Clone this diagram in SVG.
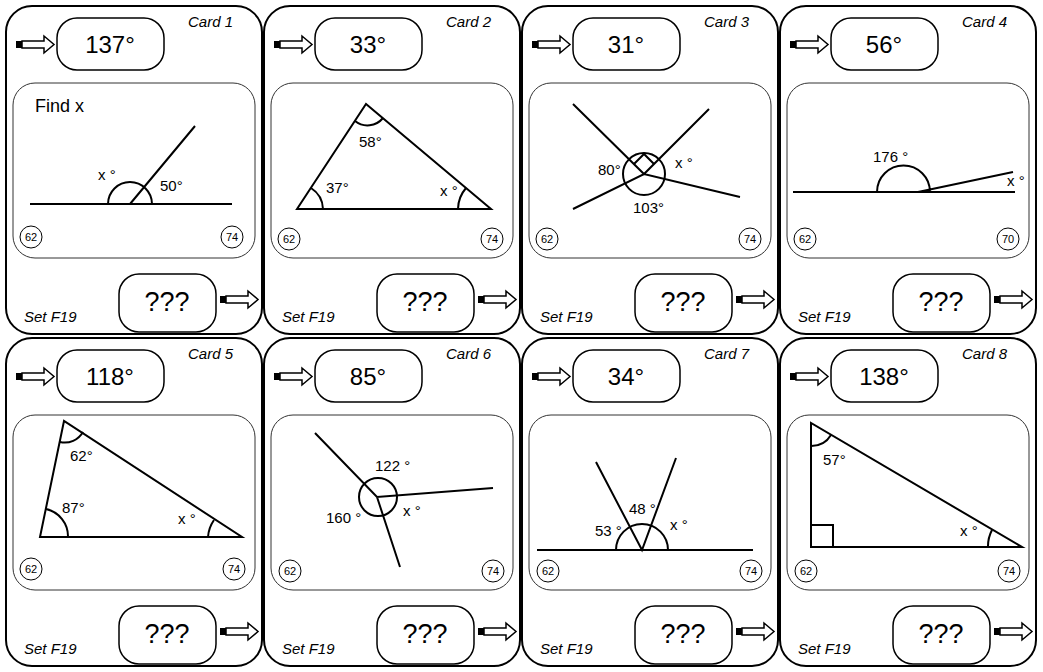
<svg xmlns="http://www.w3.org/2000/svg" width="1043" height="672" viewBox="0 0 1043 672">
<defs>
<style>
text{font-family:"Liberation Sans",Arial,sans-serif;fill:#000}
.card{fill:#fff;stroke:#000;stroke-width:2}
.inner{fill:#fff;stroke:#333;stroke-width:1}
.pill{fill:#fff;stroke:#000;stroke-width:1.5}
.ln{fill:none;stroke:#000;stroke-width:2}
.num{fill:#fff;stroke:#000;stroke-width:1}
.it{font-style:italic;font-size:15px}
.lab{font-size:15px}
.big{font-size:24px}
.q{font-size:27px}
.sm{font-size:11px}
</style>
<g id="shell">
<rect class="card" x="0" y="0" width="256" height="328" rx="26"/>
<path d="M10,35h6v7h-6z" fill="#000"/>
<polygon points="16,35 38,35 38,30 48,38.5 38,47 38,42 16,42" fill="#fff" stroke="#000" stroke-width="1.5"/>
<rect class="pill" x="51" y="12" width="107" height="52" rx="20"/>
<rect class="inner" x="7" y="77" width="242" height="175" rx="22"/>
<rect class="pill" x="113" y="268" width="97" height="58" rx="20"/>
<path d="M214,290h6v7h-6z" fill="#000"/>
<polygon points="220,290 242,290 242,285 252,293.5 242,302 242,297 220,297" fill="#fff" stroke="#000" stroke-width="1.5"/>
<text class="it" x="18" y="316">Set F19</text>
</g>
</defs>
<rect width="1043" height="672" fill="#fff"/>
<g id="card1"><use href="#shell" x="6" y="6"/>
<text class="it" x="233" y="27" text-anchor="end">Card 1</text>
<text class="big" x="110" y="53" text-anchor="middle">137°</text>
<text class="q" x="167" y="311" text-anchor="middle">???</text>
<text x="35" y="112" font-size="18">Find x</text>
<path class="ln" d="M30,204H232M130,204L195,126M108,204A22,22 0 0 1 152,204"/>
<text class="lab" x="98" y="180">x °</text><text class="lab" x="160" y="191">50°</text>
<circle class="num" cx="31" cy="237" r="11"/><text class="sm" x="31" y="241" text-anchor="middle">62</text>
<circle class="num" cx="232" cy="237" r="11"/><text class="sm" x="232" y="241" text-anchor="middle">74</text>
</g>
<g id="card2"><use href="#shell" x="264" y="6"/>
<text class="it" x="491" y="27" text-anchor="end">Card 2</text>
<text class="big" x="368" y="53" text-anchor="middle">33°</text>
<text class="q" x="425" y="311" text-anchor="middle">???</text>
<path class="ln" d="M297,209L366,104L491,209Z"/>
<path class="ln" stroke-width="1.5" d="M355,121A20,20 0 0 0 383,118M323,209A26,26 0 0 0 311,188M458,209A33,33 0 0 1 466,188"/>
<text class="lab" x="359" y="147">58°</text><text class="lab" x="326" y="193">37°</text><text class="lab" x="440" y="196">x °</text>
<circle class="num" cx="289" cy="239" r="11"/><text class="sm" x="289" y="243" text-anchor="middle">62</text>
<circle class="num" cx="492" cy="239" r="11"/><text class="sm" x="492" y="243" text-anchor="middle">74</text>
</g>
<g id="card3"><use href="#shell" x="522" y="6"/>
<text class="it" x="749" y="27" text-anchor="end">Card 3</text>
<text class="big" x="626" y="53" text-anchor="middle">31°</text>
<text class="q" x="683" y="311" text-anchor="middle">???</text>
<path class="ln" d="M573,104L644,174L709,109M573,209L644,174L740,197"/>
<circle class="ln" cx="644" cy="174" r="21"/>
<path class="ln" d="M634,164L644,154L654,164"/>
<text class="lab" x="598" y="175">80°</text><text class="lab" x="675" y="168">x °</text><text class="lab" x="633" y="213">103°</text>
<circle class="num" cx="547" cy="239" r="11"/><text class="sm" x="547" y="243" text-anchor="middle">62</text>
<circle class="num" cx="750" cy="239" r="11"/><text class="sm" x="750" y="243" text-anchor="middle">74</text>
</g>
<g id="card4"><use href="#shell" x="780" y="6"/>
<text class="it" x="1007" y="27" text-anchor="end">Card 4</text>
<text class="big" x="884" y="53" text-anchor="middle">56°</text>
<text class="q" x="941" y="311" text-anchor="middle">???</text>
<path class="ln" d="M793,192H1015M918,192L1013,172M877,192A26.5,26.5 0 0 1 930,192"/>
<text class="lab" x="873" y="162">176 °</text><text class="lab" x="1007" y="186">x °</text>
<circle class="num" cx="805" cy="239" r="11"/><text class="sm" x="805" y="243" text-anchor="middle">62</text>
<circle class="num" cx="1008" cy="239" r="11"/><text class="sm" x="1008" y="243" text-anchor="middle">70</text>
</g>
<g id="card5"><use href="#shell" x="6" y="338"/>
<text class="it" x="233" y="359" text-anchor="end">Card 5</text>
<text class="big" x="110" y="385" text-anchor="middle">118°</text>
<text class="q" x="167" y="643" text-anchor="middle">???</text>
<path class="ln" d="M64,421L40,537L242,537Z"/>
<path class="ln" stroke-width="1.5" d="M60,442A21,21 0 0 0 83,432M68,537A28,28 0 0 0 46,509M208,537A34,34 0 0 1 214,520"/>
<text class="lab" x="70" y="461">62°</text><text class="lab" x="62" y="513">87°</text><text class="lab" x="178" y="524">x °</text>
<circle class="num" cx="31" cy="569" r="11"/><text class="sm" x="31" y="573" text-anchor="middle">62</text>
<circle class="num" cx="234" cy="569" r="11"/><text class="sm" x="234" y="573" text-anchor="middle">74</text>
</g>
<g id="card6"><use href="#shell" x="264" y="338"/>
<text class="it" x="491" y="359" text-anchor="end">Card 6</text>
<text class="big" x="368" y="385" text-anchor="middle">85°</text>
<text class="q" x="425" y="643" text-anchor="middle">???</text>
<path class="ln" d="M315,433L377,497L493,488M377,497L400,567"/>
<circle class="ln" cx="378" cy="497" r="19"/>
<text class="lab" x="375" y="471">122 °</text><text class="lab" x="326" y="523">160 °</text><text class="lab" x="403" y="516">x °</text>
<circle class="num" cx="290" cy="571" r="11"/><text class="sm" x="290" y="575" text-anchor="middle">62</text>
<circle class="num" cx="493" cy="571" r="11"/><text class="sm" x="493" y="575" text-anchor="middle">74</text>
</g>
<g id="card7"><use href="#shell" x="522" y="338"/>
<text class="it" x="749" y="359" text-anchor="end">Card 7</text>
<text class="big" x="626" y="385" text-anchor="middle">34°</text>
<text class="q" x="683" y="643" text-anchor="middle">???</text>
<path class="ln" d="M537,550H753M596,462L642,550L676,458M616,550A26,26 0 0 1 668,550"/>
<text class="lab" x="595" y="536">53 °</text><text class="lab" x="629" y="514">48 °</text><text class="lab" x="670" y="530">x °</text>
<circle class="num" cx="548" cy="571" r="11"/><text class="sm" x="548" y="575" text-anchor="middle">62</text>
<circle class="num" cx="751" cy="571" r="11"/><text class="sm" x="751" y="575" text-anchor="middle">74</text>
</g>
<g id="card8"><use href="#shell" x="780" y="338"/>
<text class="it" x="1007" y="359" text-anchor="end">Card 8</text>
<text class="big" x="884" y="385" text-anchor="middle">138°</text>
<text class="q" x="941" y="643" text-anchor="middle">???</text>
<path class="ln" d="M811,423L811,547L1022,547Z"/>
<path class="ln" stroke-width="1.5" d="M811,525H833V547M811,446A23,23 0 0 0 831,435M988,547A35,35 0 0 1 992,530"/>
<text class="lab" x="823" y="465">57°</text><text class="lab" x="960" y="536">x °</text>
<circle class="num" cx="806" cy="571" r="11"/><text class="sm" x="806" y="575" text-anchor="middle">62</text>
<circle class="num" cx="1009" cy="571" r="11"/><text class="sm" x="1009" y="575" text-anchor="middle">74</text>
</g>
<g id="connectors"></g>
</svg>
